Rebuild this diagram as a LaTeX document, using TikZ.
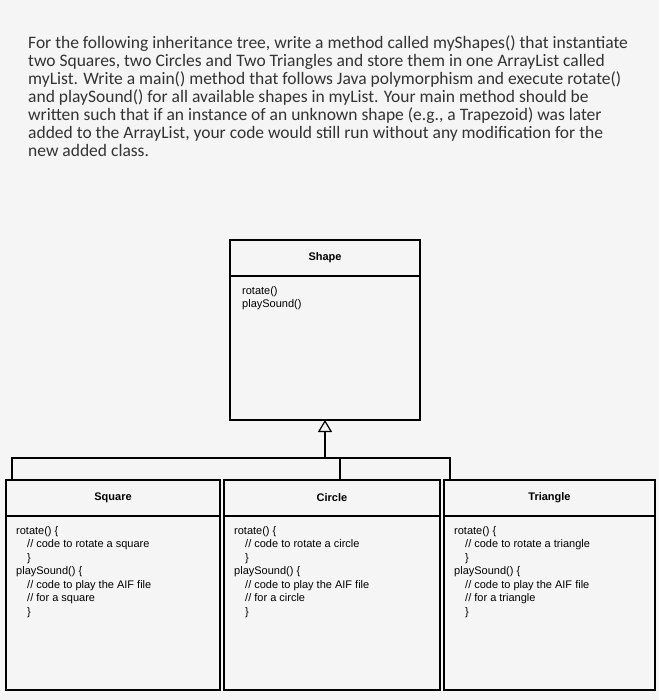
\documentclass[tikz,border=0pt]{standalone}
\usepackage{fontspec}
\setmainfont{Liberation Sans}
\newfontfamily\para{Carlito}
\usetikzlibrary{arrows.meta}
\begin{document}
\begin{tikzpicture}[x=1pt,y=-1pt,
  box/.style={draw,line width=2.2pt},
  hdr/.style={font=\bfseries\fontsize{11}{13}\selectfont},
  body/.style={align=left,anchor=north west,font=\fontsize{11}{13.5}\selectfont,inner sep=0pt},
  conn/.style={line width=1.2pt}]
\useasboundingbox[fill=gray!8] (0,0) rectangle (659,700);
\node[anchor=north west,align=left,font=\para\fontsize{17.5}{18}\selectfont,text=black!80,inner sep=0pt] (txt) at (28,36)
{For the following inheritance tree, write a method called myShapes() that instantiate\\
two Squares, two Circles and Two Triangles and store them in one ArrayList called\\
myList. Write a main() method that follows Java polymorphism and execute rotate()\\
and playSound() for all available shapes in myList. Your main method should be\\
written such that if an instance of an unknown shape (e.g., a Trapezoid) was later\\
added to the ArrayList, your code would still run without any modification for the\\
new added class.};
% Shape
\draw[box] (230,240) rectangle (420,420);
\draw[line width=1.2pt] (230,276) -- (420,276);
\node[hdr] (shape) at (325,258) {Shape};
\node[body] (shm) at (242,286) {rotate()\\playSound()};
% subclasses
\foreach \n/\xa/\xb/\t/\w in {sq/6/220/Square/square,ci/224/440/Circle/circle,tr/444/655/Triangle/triangle}{
  \draw[box] (\xa,480) rectangle (\xb,690);
  \draw[line width=1.2pt] (\xa,516) -- (\xb,516);
  \node[hdr] (\n) at ({(\xa+\xb)/2},498) {\t};
  \node[body] (\n b) at (\xa+10,526) {rotate() \{\\\quad // code to rotate a \w\\\quad \}\\playSound() \{\\\quad // code to play the AIF file\\\quad // for a \w\\\quad \}};
}
\coordinate (ja) at (12,458);
\coordinate (jc) at (340,458);
\coordinate (jt) at (450,458);
\coordinate (jm) at (325,458);
\draw[conn] (12,480) -- (ja) -- (jt) -- (450,480);
\draw[conn] (jc) -- (340,480);
\draw[conn,-{Triangle[open,length=12pt,width=14pt]}] (jm) -- (325,420);
\end{tikzpicture}
\end{document}
